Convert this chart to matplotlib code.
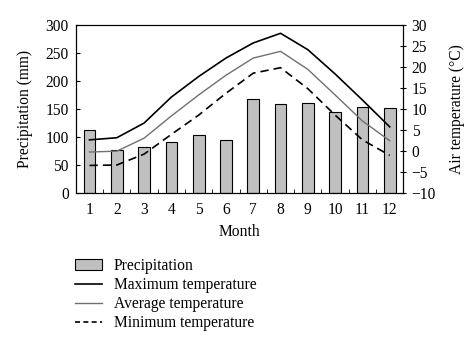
import numpy as np
import matplotlib.pyplot as plt
from matplotlib.lines import Line2D
from matplotlib.patches import Patch

plt.rcParams['font.family'] = ['Liberation Serif', 'DejaVu Serif']
plt.rcParams['font.size'] = 11.2

months = np.arange(1, 13)
precip = [112, 77, 81, 90, 103, 95, 167, 158, 161, 145, 154, 152]
t_max = [2.6, 3.1, 6.6, 12.8, 17.7, 22.1, 25.7, 28.0, 24.1, 18.3, 12.1, 5.7]
t_avg = [-0.3, -0.1, 3.0, 8.3, 13.3, 18.0, 22.1, 23.7, 19.4, 13.3, 7.1, 2.4]
t_min = [-3.5, -3.4, -0.8, 3.9, 8.5, 13.7, 18.5, 19.8, 14.8, 8.5, 2.6, -1.1]

fig = plt.figure(figsize=(4.74, 3.51), dpi=100)
ax = fig.add_axes([0.160, 0.451, 0.691, 0.478])
ax.bar(months, precip, width=0.43, color='#c0c0c0', edgecolor='black', linewidth=0.8)
ax.set_xlim(0.5, 12.5)
ax.set_ylim(0, 300)
ax.set_yticks(range(0, 301, 50))
ax.set_xticks(months)
ax.set_xticks(np.arange(1.5, 12.5, 1), minor=True)
ax.tick_params(axis='x', which='major', length=0, pad=7)
ax.tick_params(axis='x', which='minor', direction='in', length=3)
ax.tick_params(axis='y', direction='in', length=3, pad=5)
ax.set_xlabel('Month', labelpad=4)
ax.set_ylabel('Precipitation (mm)', labelpad=9)

ax2 = ax.twinx()
ax2.plot(months, t_max, color='black', lw=1.2)
ax2.plot(months, t_avg, color='#707070', lw=1.0)
ax2.plot(months, t_min, color='black', lw=1.2, ls=(0, (5, 3)))
ax2.set_ylim(-10, 30)
ax2.set_yticks(range(-10, 31, 5))
ax2.tick_params(axis='y', direction='inout', length=4, pad=4)
ax2.set_ylabel('Air temperature (°C)', labelpad=9)

handles = [Patch(facecolor='#c0c0c0', edgecolor='black', linewidth=0.8),
           Line2D([], [], color='black', lw=1.2),
           Line2D([], [], color='#707070', lw=1.0),
           Line2D([], [], color='black', lw=1.2, ls=(0, (3, 2)))]
labels = ['Precipitation', 'Maximum temperature', 'Average temperature', 'Minimum temperature']
fig.legend(handles, labels, loc='upper left', bbox_to_anchor=(0.158, 0.265), frameon=False,
           handlelength=1.75, handleheight=0.7, handletextpad=0.75, labelspacing=0.2,
           borderaxespad=0, borderpad=0)

fig.savefig('out.png', dpi=100)
